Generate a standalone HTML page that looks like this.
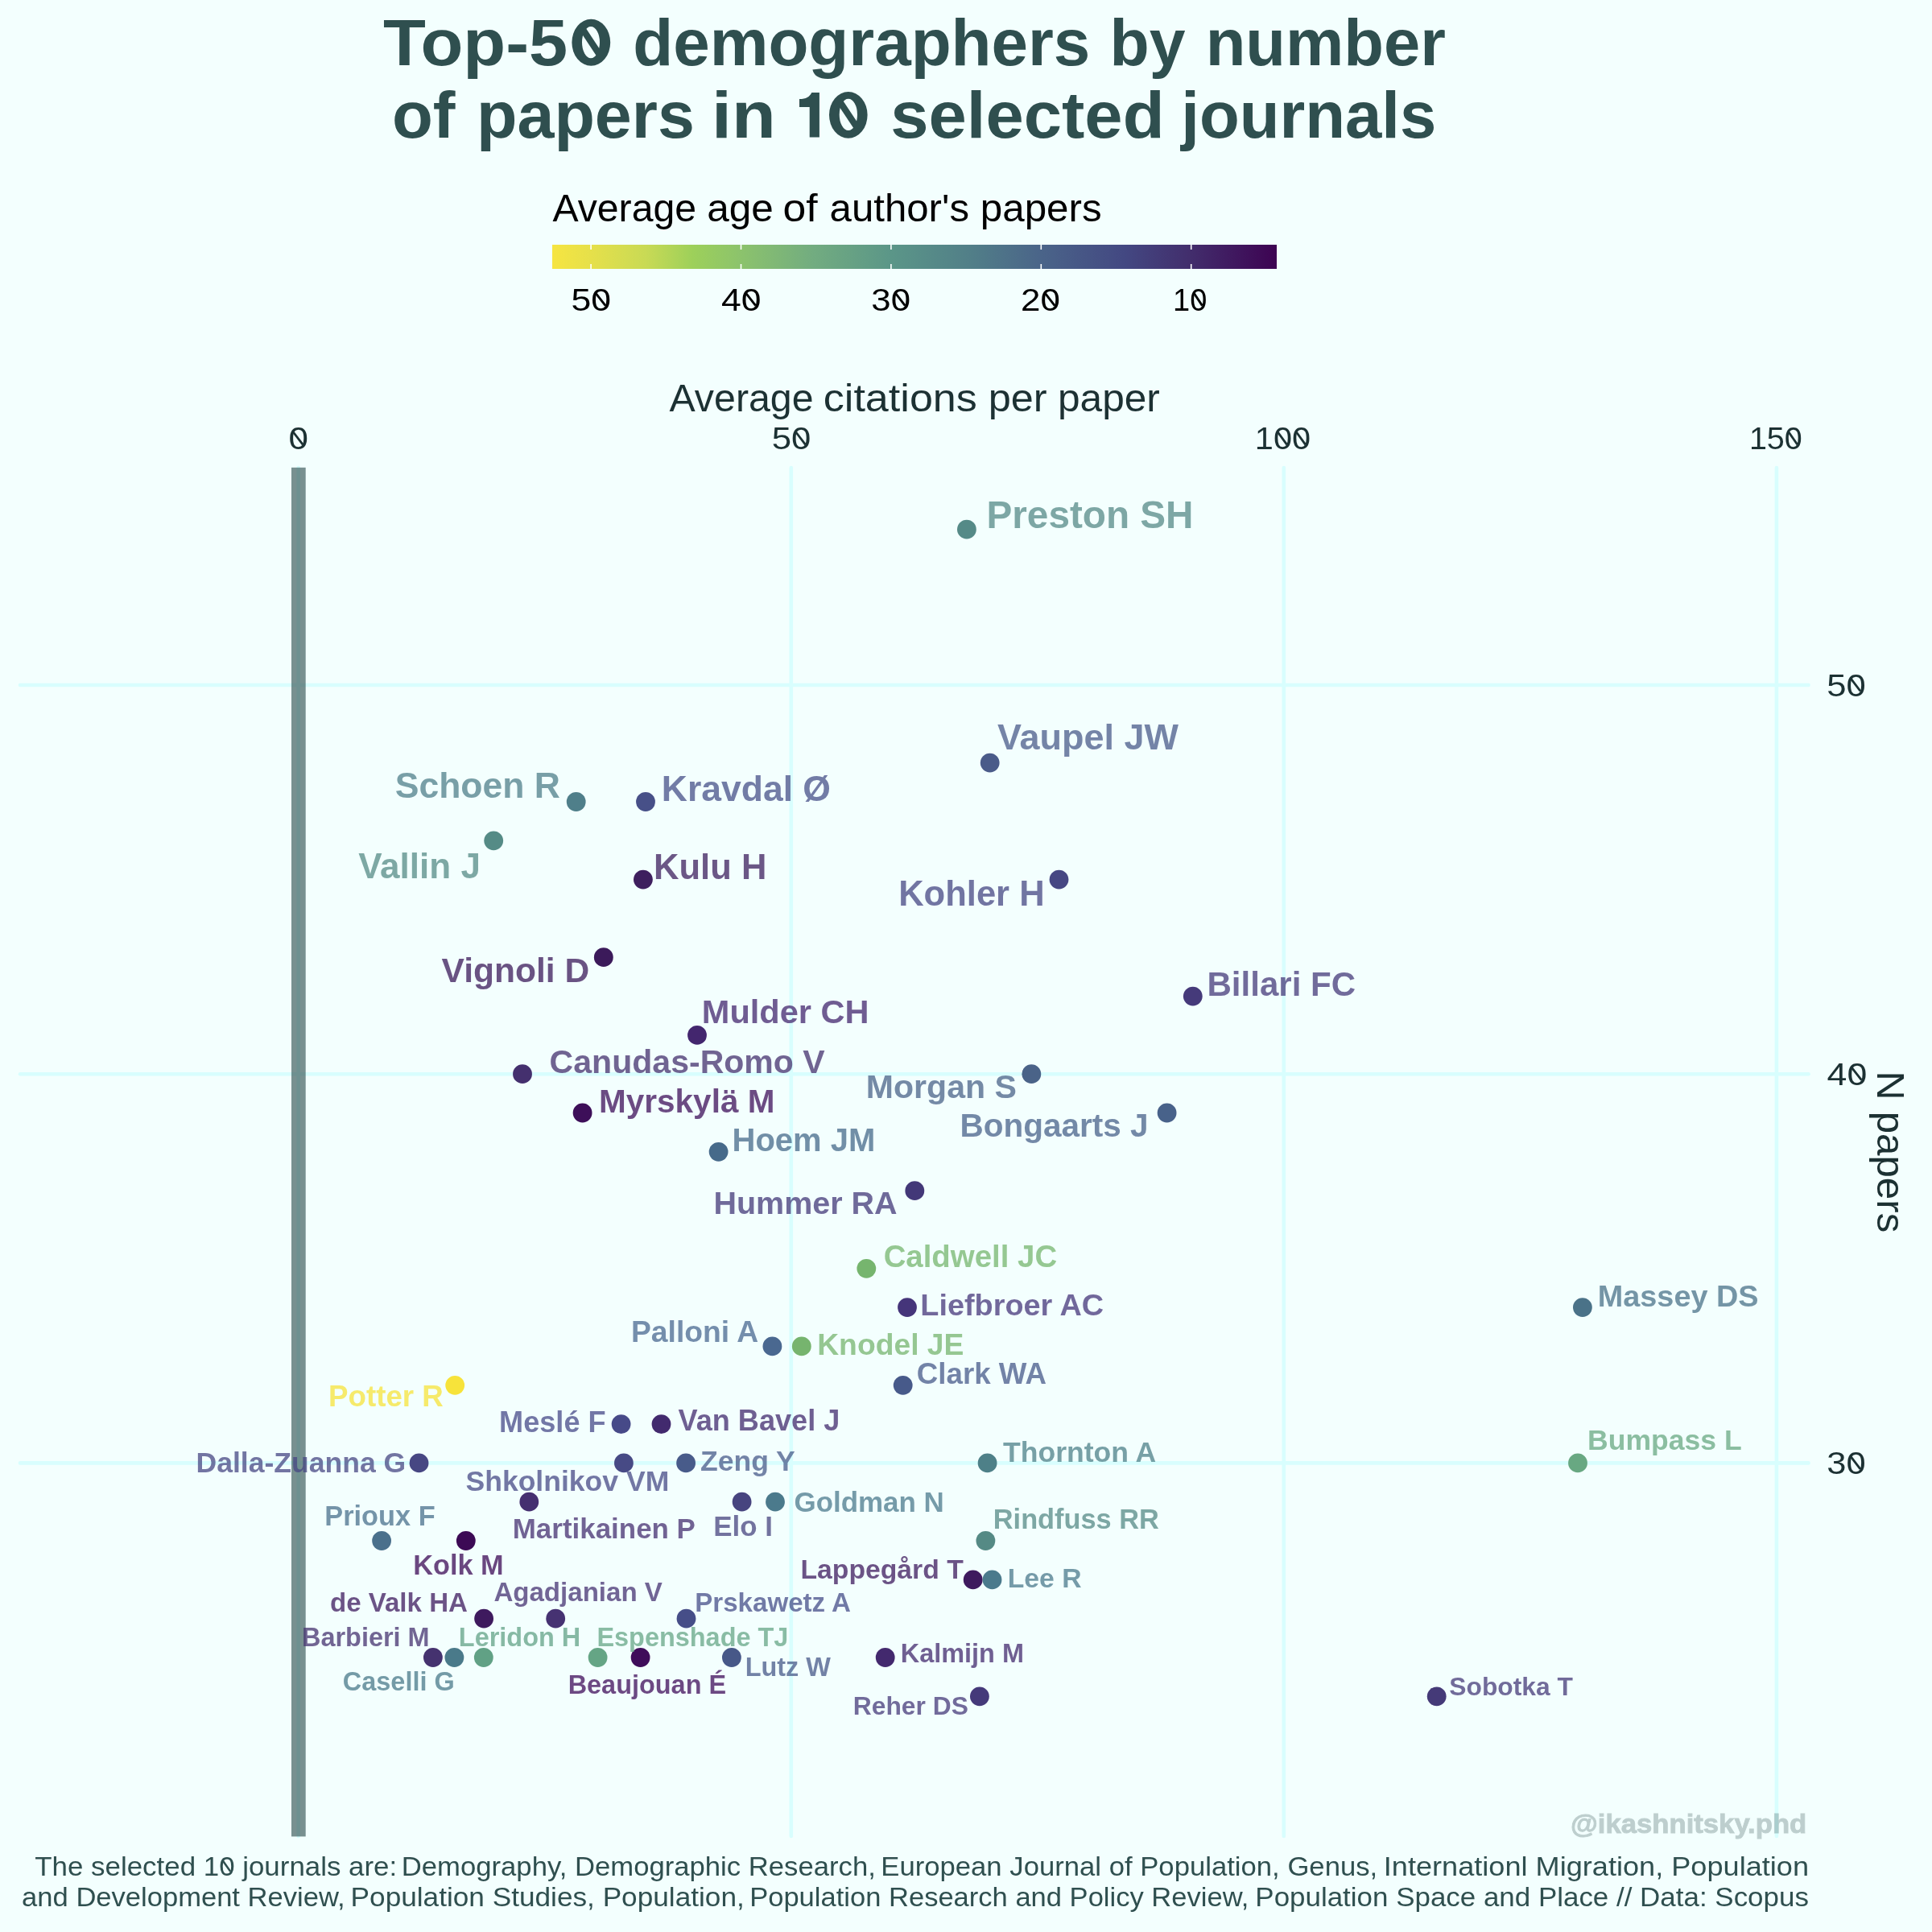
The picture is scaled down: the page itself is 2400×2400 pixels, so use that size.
<!DOCTYPE html>
<html><head><meta charset="utf-8"><title>Top-50 demographers</title>
<style>
html,body{margin:0;padding:0;background:#f3fffe;}
body{width:2400px;height:2400px;overflow:hidden;}
svg{display:block;will-change:transform;font-family:"Liberation Sans",sans-serif;}
</style></head><body>
<svg width="2400" height="2400" viewBox="0 0 2400 2400">
<rect x="0" y="0" width="2400" height="2400" fill="#f3fffe"/>
<text x="475.95" y="80.80" font-size="82.30" font-weight="bold" fill="#2f4f4f" textLength="229.19" lengthAdjust="spacingAndGlyphs" >Top-5</text>
<text x="786.25" y="80.80" font-size="82.30" font-weight="bold" fill="#2f4f4f" textLength="568.11" lengthAdjust="spacingAndGlyphs" >demographers</text>
<text x="1378.49" y="80.80" font-size="82.30" font-weight="bold" fill="#2f4f4f" textLength="93.94" lengthAdjust="spacingAndGlyphs" >by</text>
<text x="1497.64" y="80.80" font-size="82.30" font-weight="bold" fill="#2f4f4f" textLength="298.29" lengthAdjust="spacingAndGlyphs" >number</text>
<path d="M710.40,52.80 A23.90,29.00 0 1 0 758.20,52.80 A23.90,29.00 0 1 0 710.40,52.80 Z M723.00,52.55 A11.00,19.65 0 1 0 745.00,52.55 A11.00,19.65 0 1 0 723.00,52.55 Z" fill="#2f4f4f" fill-rule="evenodd"/>
<line x1="722.83" y1="34.82" x2="746.25" y2="70.20" stroke="#2f4f4f" stroke-width="8.0"/>
<text x="486.95" y="170.50" font-size="82.30" font-weight="bold" fill="#2f4f4f" textLength="78.59" lengthAdjust="spacingAndGlyphs" >of</text>
<text x="591.95" y="170.50" font-size="82.30" font-weight="bold" fill="#2f4f4f" textLength="271.04" lengthAdjust="spacingAndGlyphs" >papers</text>
<text x="884.04" y="170.50" font-size="82.30" font-weight="bold" fill="#2f4f4f" textLength="79.73" lengthAdjust="spacingAndGlyphs" >in</text>
<text x="1106.31" y="170.50" font-size="82.30" font-weight="bold" fill="#2f4f4f" textLength="340.29" lengthAdjust="spacingAndGlyphs" >selected</text>
<text x="1467.27" y="170.50" font-size="82.30" font-weight="bold" fill="#2f4f4f" textLength="317.07" lengthAdjust="spacingAndGlyphs" >journals</text>
<path d="M993,123 C1001.5,123 1005.5,120.5 1008.3,115 L1017.9,115 L1017.9,170.4 L1005.7,170.4 L1005.7,132.9 L993,132.9 Z" fill="#2f4f4f"/>
<path d="M1030.00,142.85 A23.80,28.85 0 1 0 1077.60,142.85 A23.80,28.85 0 1 0 1030.00,142.85 Z M1042.70,142.45 A11.15,19.65 0 1 0 1065.00,142.45 A11.15,19.65 0 1 0 1042.70,142.45 Z" fill="#2f4f4f" fill-rule="evenodd"/>
<line x1="1042.38" y1="124.96" x2="1065.70" y2="160.16" stroke="#2f4f4f" stroke-width="8.0"/>
<text x="686.41" y="274.70" font-size="48.70" font-weight="normal" fill="#000" textLength="178.73" lengthAdjust="spacingAndGlyphs" >Average</text>
<text x="878.20" y="274.70" font-size="48.70" font-weight="normal" fill="#000" textLength="82.60" lengthAdjust="spacingAndGlyphs" >age</text>
<text x="972.63" y="274.70" font-size="48.70" font-weight="normal" fill="#000" textLength="43.09" lengthAdjust="spacingAndGlyphs" >of</text>
<text x="1030.61" y="274.70" font-size="48.70" font-weight="normal" fill="#000" textLength="173.36" lengthAdjust="spacingAndGlyphs" >author's</text>
<text x="1217.72" y="274.70" font-size="48.70" font-weight="normal" fill="#000" textLength="150.97" lengthAdjust="spacingAndGlyphs" >papers</text>
<defs><linearGradient id="cb" x1="0" y1="0" x2="1" y2="0"><stop offset="0" stop-color="#f6e541"/><stop offset="0.053" stop-color="#e6e04a"/><stop offset="0.13" stop-color="#c8da55"/><stop offset="0.194" stop-color="#9dd05a"/><stop offset="0.26" stop-color="#8cc36c"/><stop offset="0.36" stop-color="#72ac80"/><stop offset="0.468" stop-color="#5b9688"/><stop offset="0.58" stop-color="#517e88"/><stop offset="0.675" stop-color="#4a6489"/><stop offset="0.79" stop-color="#434882"/><stop offset="0.882" stop-color="#422d6c"/><stop offset="1.0" stop-color="#3d0352"/></linearGradient></defs>
<rect x="686" y="304" width="900" height="30" fill="url(#cb)"/>
<line x1="734.1" y1="304" x2="734.1" y2="310" stroke="#fff" stroke-width="1.6"/><line x1="734.1" y1="328" x2="734.1" y2="334" stroke="#fff" stroke-width="1.6"/>
<text x="709.42" y="385.60" font-size="39.20" font-weight="normal" fill="#000" textLength="49.52" lengthAdjust="spacingAndGlyphs" >50</text>
<line x1="739.96" y1="364.06" x2="752.09" y2="379.60" stroke="#000" stroke-width="2.82" />
<line x1="920.5" y1="304" x2="920.5" y2="310" stroke="#fff" stroke-width="1.6"/><line x1="920.5" y1="328" x2="920.5" y2="334" stroke="#fff" stroke-width="1.6"/>
<text x="896.08" y="385.60" font-size="39.20" font-weight="normal" fill="#000" textLength="49.46" lengthAdjust="spacingAndGlyphs" >40</text>
<line x1="926.58" y1="364.06" x2="938.70" y2="379.60" stroke="#000" stroke-width="2.82" />
<line x1="1106.9" y1="304" x2="1106.9" y2="310" stroke="#fff" stroke-width="1.6"/><line x1="1106.9" y1="328" x2="1106.9" y2="334" stroke="#fff" stroke-width="1.6"/>
<text x="1082.33" y="385.60" font-size="39.20" font-weight="normal" fill="#000" textLength="48.68" lengthAdjust="spacingAndGlyphs" >30</text>
<line x1="1112.36" y1="364.06" x2="1124.28" y2="379.60" stroke="#000" stroke-width="2.82" />
<line x1="1293.3" y1="304" x2="1293.3" y2="310" stroke="#fff" stroke-width="1.6"/><line x1="1293.3" y1="328" x2="1293.3" y2="334" stroke="#fff" stroke-width="1.6"/>
<text x="1268.09" y="385.60" font-size="39.20" font-weight="normal" fill="#000" textLength="48.82" lengthAdjust="spacingAndGlyphs" >20</text>
<line x1="1298.20" y1="364.06" x2="1310.16" y2="379.60" stroke="#000" stroke-width="2.82" />
<line x1="1479.7" y1="304" x2="1479.7" y2="310" stroke="#fff" stroke-width="1.6"/><line x1="1479.7" y1="328" x2="1479.7" y2="334" stroke="#fff" stroke-width="1.6"/>
<text x="1457.00" y="385.60" font-size="39.20" font-weight="normal" fill="#000" textLength="42.28" lengthAdjust="spacingAndGlyphs" >10</text>
<line x1="1483.08" y1="364.06" x2="1493.44" y2="379.60" stroke="#000" stroke-width="2.82" />
<text x="831.51" y="511.10" font-size="48.00" font-weight="normal" fill="#1c3133" textLength="179.13" lengthAdjust="spacingAndGlyphs" >Average</text>
<text x="1022.79" y="511.10" font-size="48.00" font-weight="normal" fill="#1c3133" textLength="191.10" lengthAdjust="spacingAndGlyphs" >citations</text>
<text x="1227.75" y="511.10" font-size="48.00" font-weight="normal" fill="#1c3133" textLength="72.89" lengthAdjust="spacingAndGlyphs" >per</text>
<text x="1314.00" y="511.10" font-size="48.00" font-weight="normal" fill="#1c3133" textLength="126.82" lengthAdjust="spacingAndGlyphs" >paper</text>
<g transform="translate(2332,0) rotate(90)"><text x="1330.49" y="0.00" font-size="48.50" font-weight="normal" fill="#1c3133" textLength="36.20" lengthAdjust="spacingAndGlyphs" >N</text>
<text x="1380.73" y="0.00" font-size="48.50" font-weight="normal" fill="#1c3133" textLength="150.55" lengthAdjust="spacingAndGlyphs" >papers</text>
</g>
<g stroke="#d8fefe" stroke-width="4.6" stroke-linecap="round"><line x1="370.7" y1="581" x2="370.7" y2="2281" /><line x1="982.8" y1="581" x2="982.8" y2="2281" /><line x1="1594.8" y1="581" x2="1594.8" y2="2281" /><line x1="2206.9" y1="581" x2="2206.9" y2="2281" /><line x1="25" y1="851.0" x2="2246.6" y2="851.0" /><line x1="25" y1="1334.2" x2="2246.6" y2="1334.2" /><line x1="25" y1="1817.4" x2="2246.6" y2="1817.4" /></g>
<text x="358.58" y="558.30" font-size="39.20" font-weight="normal" fill="#1c3133" textLength="24.43" lengthAdjust="spacingAndGlyphs" >0</text>
<line x1="364.29" y1="536.76" x2="376.26" y2="552.30" stroke="#1c3133" stroke-width="2.82" />
<text x="958.65" y="558.30" font-size="39.20" font-weight="normal" fill="#1c3133" textLength="48.66" lengthAdjust="spacingAndGlyphs" >50</text>
<line x1="988.66" y1="536.76" x2="1000.58" y2="552.30" stroke="#1c3133" stroke-width="2.82" />
<text x="1558.84" y="558.30" font-size="39.20" font-weight="normal" fill="#1c3133" textLength="69.29" lengthAdjust="spacingAndGlyphs" >100</text>
<line x1="1587.33" y1="536.76" x2="1598.64" y2="552.30" stroke="#1c3133" stroke-width="2.82" />
<line x1="1610.42" y1="536.76" x2="1621.74" y2="552.30" stroke="#1c3133" stroke-width="2.82" />
<text x="2172.89" y="558.30" font-size="39.20" font-weight="normal" fill="#1c3133" textLength="65.96" lengthAdjust="spacingAndGlyphs" >150</text>
<line x1="2221.99" y1="536.76" x2="2232.76" y2="552.30" stroke="#1c3133" stroke-width="2.82" />
<text x="2269.26" y="864.50" font-size="39.20" font-weight="normal" fill="#1c3133" textLength="48.45" lengthAdjust="spacingAndGlyphs" >50</text>
<line x1="2299.14" y1="842.96" x2="2311.00" y2="858.50" stroke="#1c3133" stroke-width="2.82" />
<text x="2269.58" y="1347.70" font-size="39.20" font-weight="normal" fill="#1c3133" textLength="49.67" lengthAdjust="spacingAndGlyphs" >40</text>
<line x1="2300.21" y1="1326.16" x2="2312.38" y2="1341.70" stroke="#1c3133" stroke-width="2.82" />
<text x="2269.24" y="1830.90" font-size="39.20" font-weight="normal" fill="#1c3133" textLength="48.35" lengthAdjust="spacingAndGlyphs" >30</text>
<line x1="2299.07" y1="1809.36" x2="2310.91" y2="1824.90" stroke="#1c3133" stroke-width="2.82" />
<g opacity="0.27"><text x="1951.04" y="2276.50" font-size="33.00" font-weight="bold" fill="#2f4f4f" textLength="293.23" lengthAdjust="spacingAndGlyphs" stroke="#2f4f4f" stroke-width="0.9">@ikashnitsky.phd</text>
</g>
<rect x="362" y="580.8" width="17.7" height="1700.6" fill="#2f4f4f" fill-opacity="0.63"/>
<circle cx="1200.9" cy="657.7" r="11.9" fill="#558a87"/>
<circle cx="1229.7" cy="947.6" r="11.9" fill="#4a5b89"/>
<circle cx="715.7" cy="996.0" r="11.9" fill="#4f7f8a"/>
<circle cx="802.0" cy="996.0" r="11.9" fill="#475088"/>
<circle cx="613.2" cy="1044.3" r="11.9" fill="#558b86"/>
<circle cx="798.9" cy="1092.6" r="11.9" fill="#3e1f5e"/>
<circle cx="1315.5" cy="1092.6" r="11.9" fill="#464783"/>
<circle cx="749.8" cy="1189.2" r="11.9" fill="#3b1a5a"/>
<circle cx="1481.8" cy="1237.6" r="11.9" fill="#453a7a"/>
<circle cx="866.0" cy="1285.9" r="11.9" fill="#43266e"/>
<circle cx="649.0" cy="1334.2" r="11.9" fill="#44306e"/>
<circle cx="1281.3" cy="1334.2" r="11.9" fill="#4a6388"/>
<circle cx="723.6" cy="1382.5" r="11.9" fill="#3d0f59"/>
<circle cx="1449.6" cy="1382.5" r="11.9" fill="#48628a"/>
<circle cx="892.6" cy="1430.8" r="11.9" fill="#466a8a"/>
<circle cx="1136.3" cy="1479.2" r="11.9" fill="#433878"/>
<circle cx="1076.3" cy="1575.8" r="11.9" fill="#76b56e"/>
<circle cx="1127.0" cy="1624.1" r="11.9" fill="#45357a"/>
<circle cx="1965.9" cy="1624.1" r="11.9" fill="#4a7288"/>
<circle cx="959.4" cy="1672.4" r="11.9" fill="#4a6890"/>
<circle cx="995.8" cy="1672.4" r="11.9" fill="#76b46e"/>
<circle cx="1121.7" cy="1720.8" r="11.9" fill="#475a8a"/>
<circle cx="565.2" cy="1720.8" r="11.9" fill="#f7e33a"/>
<circle cx="771.6" cy="1769.1" r="11.9" fill="#474a88"/>
<circle cx="821.5" cy="1769.1" r="11.9" fill="#422a6e"/>
<circle cx="520.5" cy="1817.4" r="11.9" fill="#474783"/>
<circle cx="774.9" cy="1817.4" r="11.9" fill="#474a85"/>
<circle cx="852.1" cy="1817.4" r="11.9" fill="#485b8a"/>
<circle cx="1226.6" cy="1817.4" r="11.9" fill="#4e8088"/>
<circle cx="1960.0" cy="1817.4" r="11.9" fill="#68a882"/>
<circle cx="657.3" cy="1865.7" r="11.9" fill="#452f70"/>
<circle cx="921.6" cy="1865.7" r="11.9" fill="#47447f"/>
<circle cx="963.0" cy="1865.7" r="11.9" fill="#4b7a8c"/>
<circle cx="474.1" cy="1914.0" r="11.9" fill="#4a708c"/>
<circle cx="578.8" cy="1914.0" r="11.9" fill="#3c0a55"/>
<circle cx="1224.4" cy="1914.0" r="11.9" fill="#558a85"/>
<circle cx="1208.7" cy="1962.4" r="11.9" fill="#3e1a5e"/>
<circle cx="1232.5" cy="1962.4" r="11.9" fill="#4b7a8c"/>
<circle cx="601.1" cy="2010.7" r="11.9" fill="#3e1a5e"/>
<circle cx="690.2" cy="2010.7" r="11.9" fill="#463272"/>
<circle cx="852.5" cy="2010.7" r="11.9" fill="#464e88"/>
<circle cx="537.9" cy="2059.0" r="11.9" fill="#45326f"/>
<circle cx="564.4" cy="2059.0" r="11.9" fill="#4a7a8a"/>
<circle cx="600.8" cy="2059.0" r="11.9" fill="#61a185"/>
<circle cx="742.6" cy="2059.0" r="11.9" fill="#65a585"/>
<circle cx="795.6" cy="2059.0" r="11.9" fill="#3f0c5a"/>
<circle cx="908.9" cy="2059.0" r="11.9" fill="#475888"/>
<circle cx="1099.7" cy="2059.0" r="11.9" fill="#43296e"/>
<circle cx="1216.9" cy="2107.3" r="11.9" fill="#453a7a"/>
<circle cx="1784.7" cy="2107.3" r="11.9" fill="#453a78"/>
<text x="1225.51" y="656.30" font-size="47.69" font-weight="bold" fill="#558a87" fill-opacity="0.75">Preston SH</text>
<text x="1239.09" y="931.10" font-size="44.96" font-weight="bold" fill="#4a5b89" fill-opacity="0.75">Vaupel JW</text>
<text x="490.72" y="990.60" font-size="44.49" font-weight="bold" fill="#4f7f8a" fill-opacity="0.75">Schoen R</text>
<text x="821.82" y="995.00" font-size="44.49" font-weight="bold" fill="#475088" fill-opacity="0.75">Kravdal Ø</text>
<text x="445.20" y="1090.90" font-size="44.02" font-weight="bold" fill="#558b86" fill-opacity="0.75">Vallin J</text>
<text x="812.09" y="1091.50" font-size="43.54" font-weight="bold" fill="#3e1f5e" fill-opacity="0.75">Kulu H</text>
<text x="1116.19" y="1124.50" font-size="43.54" font-weight="bold" fill="#464783" fill-opacity="0.75">Kohler H</text>
<text x="548.61" y="1220.40" font-size="42.56" font-weight="bold" fill="#3b1a5a" fill-opacity="0.75">Vignoli D</text>
<text x="1499.49" y="1237.10" font-size="42.06" font-weight="bold" fill="#453a7a" fill-opacity="0.75">Billari FC</text>
<text x="871.82" y="1270.90" font-size="41.56" font-weight="bold" fill="#43266e" fill-opacity="0.75">Mulder CH</text>
<text x="682.62" y="1332.80" font-size="41.05" font-weight="bold" fill="#44306e" fill-opacity="0.75">Canudas-Romo V</text>
<text x="1075.85" y="1363.50" font-size="41.05" font-weight="bold" fill="#4a6388" fill-opacity="0.75">Morgan S</text>
<text x="743.99" y="1382.10" font-size="40.53" font-weight="bold" fill="#3d0f59" fill-opacity="0.75">Myrskylä M</text>
<text x="1192.49" y="1411.90" font-size="40.53" font-weight="bold" fill="#48628a" fill-opacity="0.75">Bongaarts J</text>
<text x="909.52" y="1430.00" font-size="40.01" font-weight="bold" fill="#466a8a" fill-opacity="0.75">Hoem JM</text>
<text x="886.46" y="1507.60" font-size="39.48" font-weight="bold" fill="#433878" fill-opacity="0.75">Hummer RA</text>
<text x="1097.63" y="1574.20" font-size="38.40" font-weight="bold" fill="#76b56e" fill-opacity="0.75">Caldwell JC</text>
<text x="1143.37" y="1634.10" font-size="37.84" font-weight="bold" fill="#45357a" fill-opacity="0.75">Liefbroer AC</text>
<text x="1984.77" y="1623.40" font-size="37.84" font-weight="bold" fill="#4a7288" fill-opacity="0.75">Massey DS</text>
<text x="784.01" y="1667.20" font-size="37.28" font-weight="bold" fill="#4a6890" fill-opacity="0.75">Palloni A</text>
<text x="1015.21" y="1682.80" font-size="37.28" font-weight="bold" fill="#76b46e" fill-opacity="0.75">Knodel JE</text>
<text x="1138.79" y="1719.20" font-size="36.71" font-weight="bold" fill="#475a8a" fill-opacity="0.75">Clark WA</text>
<text x="408.04" y="1747.20" font-size="36.71" font-weight="bold" fill="#f7e33a" fill-opacity="0.75">Potter R</text>
<text x="620.08" y="1779.40" font-size="36.13" font-weight="bold" fill="#474a88" fill-opacity="0.75">Meslé F</text>
<text x="842.55" y="1777.20" font-size="36.13" font-weight="bold" fill="#422a6e" fill-opacity="0.75">Van Bavel J</text>
<text x="243.52" y="1829.00" font-size="35.55" font-weight="bold" fill="#474783" fill-opacity="0.75">Dalla-Zuanna G</text>
<text x="578.48" y="1852.20" font-size="35.55" font-weight="bold" fill="#474a85" fill-opacity="0.75">Shkolnikov VM</text>
<text x="869.94" y="1826.90" font-size="35.55" font-weight="bold" fill="#485b8a" fill-opacity="0.75">Zeng Y</text>
<text x="1246.00" y="1816.10" font-size="35.55" font-weight="bold" fill="#4e8088" fill-opacity="0.75">Thornton A</text>
<text x="1972.12" y="1800.80" font-size="35.55" font-weight="bold" fill="#68a882" fill-opacity="0.75">Bumpass L</text>
<text x="636.76" y="1910.90" font-size="34.95" font-weight="bold" fill="#452f70" fill-opacity="0.75">Martikainen P</text>
<text x="886.16" y="1908.00" font-size="34.95" font-weight="bold" fill="#47447f" fill-opacity="0.75">Elo I</text>
<text x="986.47" y="1878.20" font-size="34.95" font-weight="bold" fill="#4b7a8c" fill-opacity="0.75">Goldman N</text>
<text x="403.30" y="1895.30" font-size="34.34" font-weight="bold" fill="#4a708c" fill-opacity="0.75">Prioux F</text>
<text x="513.20" y="1955.60" font-size="34.34" font-weight="bold" fill="#3c0a55" fill-opacity="0.75">Kolk M</text>
<text x="1233.80" y="1898.90" font-size="34.34" font-weight="bold" fill="#558a85" fill-opacity="0.75">Rindfuss RR</text>
<text x="994.44" y="1961.20" font-size="33.72" font-weight="bold" fill="#3e1a5e" fill-opacity="0.75">Lappegård T</text>
<text x="1251.74" y="1972.10" font-size="33.72" font-weight="bold" fill="#4b7a8c" fill-opacity="0.75">Lee R</text>
<text x="409.94" y="2001.90" font-size="33.09" font-weight="bold" fill="#3e1a5e" fill-opacity="0.75">de Valk HA</text>
<text x="613.38" y="1988.70" font-size="33.09" font-weight="bold" fill="#463272" fill-opacity="0.75">Agadjanian V</text>
<text x="863.29" y="2001.60" font-size="33.09" font-weight="bold" fill="#464e88" fill-opacity="0.75">Prskawetz A</text>
<text x="375.03" y="2045.00" font-size="32.45" font-weight="bold" fill="#45326f" fill-opacity="0.75">Barbieri M</text>
<text x="425.87" y="2099.70" font-size="32.45" font-weight="bold" fill="#4a7a8a" fill-opacity="0.75">Caselli G</text>
<text x="569.83" y="2045.00" font-size="32.45" font-weight="bold" fill="#61a185" fill-opacity="0.75">Leridon H</text>
<text x="741.43" y="2045.00" font-size="32.45" font-weight="bold" fill="#65a585" fill-opacity="0.75">Espenshade TJ</text>
<text x="705.63" y="2104.00" font-size="32.45" font-weight="bold" fill="#3f0c5a" fill-opacity="0.75">Beaujouan É</text>
<text x="925.63" y="2082.10" font-size="32.45" font-weight="bold" fill="#475888" fill-opacity="0.75">Lutz W</text>
<text x="1118.73" y="2064.50" font-size="32.45" font-weight="bold" fill="#43296e" fill-opacity="0.75">Kalmijn M</text>
<text x="1059.77" y="2130.10" font-size="31.79" font-weight="bold" fill="#453a7a" fill-opacity="0.75">Reher DS</text>
<text x="1800.28" y="2106.40" font-size="31.79" font-weight="bold" fill="#453a78" fill-opacity="0.75">Sobotka T</text>
<text x="43.32" y="2330.00" font-size="34.00" font-weight="normal" fill="#2f4f4f" textLength="449.87" lengthAdjust="spacingAndGlyphs" >The selected 10 journals are:</text>
<line x1="276.67" y1="2311.31" x2="286.17" y2="2324.80" stroke="#2f4f4f" stroke-width="2.45" />
<text x="498.77" y="2330.00" font-size="34.00" font-weight="normal" fill="#2f4f4f" textLength="589.03" lengthAdjust="spacingAndGlyphs" >Demography, Demographic Research,</text>
<text x="1094.26" y="2330.00" font-size="34.00" font-weight="normal" fill="#2f4f4f" textLength="616.96" lengthAdjust="spacingAndGlyphs" >European Journal of Population, Genus,</text>
<text x="1718.77" y="2330.00" font-size="34.00" font-weight="normal" fill="#2f4f4f" textLength="528.28" lengthAdjust="spacingAndGlyphs" >Internationl Migration, Population</text>
<text x="27.14" y="2368.00" font-size="34.00" font-weight="normal" fill="#2f4f4f" textLength="401.45" lengthAdjust="spacingAndGlyphs" >and Development Review,</text>
<text x="435.61" y="2368.00" font-size="34.00" font-weight="normal" fill="#2f4f4f" textLength="489.15" lengthAdjust="spacingAndGlyphs" >Population Studies, Population,</text>
<text x="931.18" y="2368.00" font-size="34.00" font-weight="normal" fill="#2f4f4f" textLength="620.12" lengthAdjust="spacingAndGlyphs" >Population Research and Policy Review,</text>
<text x="1559.33" y="2368.00" font-size="34.00" font-weight="normal" fill="#2f4f4f" textLength="687.53" lengthAdjust="spacingAndGlyphs" >Population Space and Place // Data: Scopus</text>
</svg>
</body></html>
